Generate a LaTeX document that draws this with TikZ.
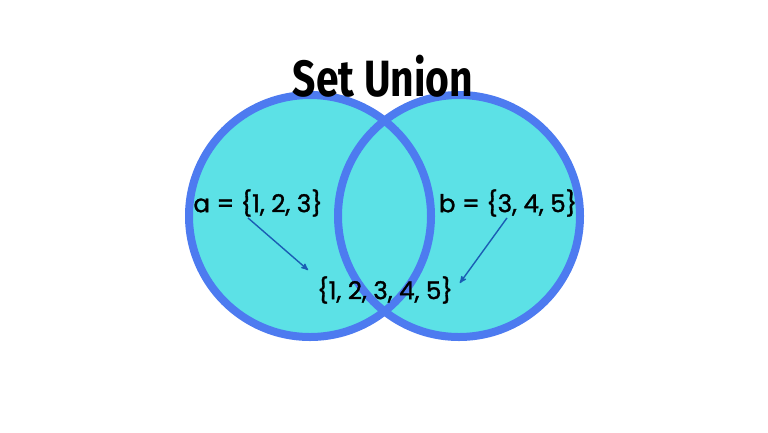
\documentclass[tikz,border=0pt]{standalone}
\usepackage{fontspec}
\setmainfont{Poppins}
\newfontfamily\lblfont[FakeBold=1.3]{Poppins}
\newfontfamily\titlefont[FakeStretch=0.8]{Fira Sans}
\usetikzlibrary{arrows,calc,positioning}
\definecolor{setcyan}{HTML}{5CE1E6}
\definecolor{setrim}{HTML}{4D7BF0}
\definecolor{pointer}{HTML}{1A5DB4}
\tikzset{
    >=stealth',
    setfill/.style={
           fill=setcyan},
    setrim/.style={
           draw=setrim,
           line width=8pt},
    lbl/.style={
           font=\lblfont\fontsize{24.5}{28}\selectfont,
           inner sep=1pt,
           text centered},
    pil/.style={
           ->,
           draw=pointer,
           line width=1.4pt}
}
\begin{document}
\begin{tikzpicture}[x=1pt,y=-1pt]
        \useasboundingbox[fill=white] (0,0) rectangle (768,432);
        \fill[setfill] (310,216) circle (121);
        \fill[setfill] (459,216) circle (121);
        \draw[setrim] (310,216) circle (121);
        \draw[setrim] (459,216) circle (121);
        \node[font=\titlefont\bfseries\fontsize{51}{56}\selectfont] (title) at (383,76) {Set Union};
        \node[lbl] (a) at (258,203) {a = \{1, 2, 3\}};
        \node[lbl] (b) at (508,203) {b = \{3, 4, 5\}};
        \node[lbl] (u) at (385,290) {\{1, 2, 3, 4, 5\}};
        \draw[pil] ([xshift=-10pt]a.south) -- ([xshift=-8pt,yshift=5pt]u.north west);
        \draw[pil] ([xshift=-1pt]b.south) -- ([xshift=6pt,yshift=7pt]u.east);
    \end{tikzpicture}
\end{document}
